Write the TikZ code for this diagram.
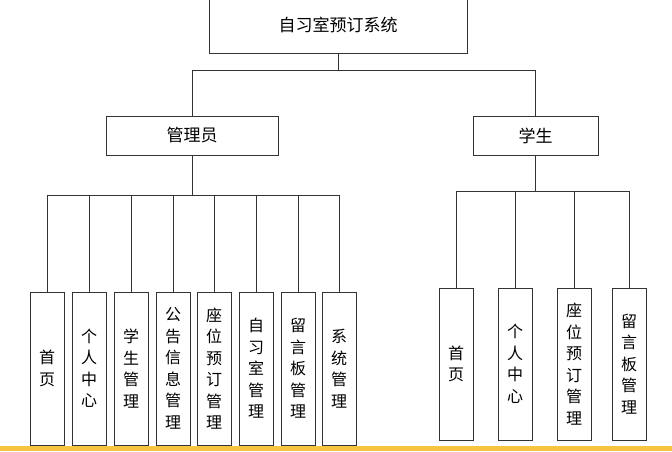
\documentclass[tikz,border=0pt]{standalone}
\usepackage{fontspec}
\newfontfamily\cjk{Noto Sans CJK SC}
\definecolor{lineclr}{HTML}{333333}
\definecolor{barclr}{HTML}{F9C342}
\tikzset{
  box/.style={draw=lineclr, line width=1pt, rectangle, inner sep=0pt, align=center,
    font=\cjk\fontsize{17}{22}\selectfont, text=black},
  leafbox/.style={box, minimum width=34pt, font=\cjk\fontsize{16}{21.5}\selectfont},
  conn/.style={draw=lineclr, line width=1pt}
}
\begin{document}
\begin{tikzpicture}[x=1pt,y=-1pt]
\useasboundingbox (0,0) rectangle (672,451);
\clip (0,0) rectangle (672,451);
\fill[white] (0,0) rectangle (672,451);
\fill[barclr] (0,446) rectangle (672,451);
% top
\node[box, minimum width=258pt, minimum height=60pt] (top) at (338,23) {};
\node[font=\cjk\fontsize{17}{22}\selectfont] (toptext) at (338,25) {自习室预订系统};
\node[box, minimum width=172pt, minimum height=39pt] (admin) at (192,135.5) {管理员};
\node[box, minimum width=125pt, minimum height=39pt] (stu) at (535.5,135.5) {学生};
\coordinate (j1) at (338,70);
\draw[conn] (top.south) -- (j1);
\draw[conn] (admin.north) |- (j1);
\draw[conn] (stu.north) |- (j1);
% admin leaves
\coordinate (a0) at (192,195);
\draw[conn] (admin.south) -- (a0);
\foreach \n/\x/\t in {a1/47/{首\\页}, a2/89/{个\\人\\中\\心}, a3/131/{学\\生\\管\\理},
  a4/173/{公\\告\\信\\息\\管\\理}, a5/214/{座\\位\\预\\订\\管\\理}, a6/256/{自\\习\\室\\管\\理},
  a7/298/{留\\言\\板\\管\\理}, a8/339/{系\\统\\管\\理}}{
  \node[leafbox, minimum height=153pt] (\n) at (\x,368.5) {\t};
  \draw[conn] (\n.north) |- (a0);
}
% student leaves
\coordinate (s0) at (535.5,191);
\draw[conn] (stu.south) -- (s0);
\foreach \n/\x/\t in {s1/456/{首\\页}, s2/515/{个\\人\\中\\心}, s3/574/{座\\位\\预\\订\\管\\理},
  s4/629/{留\\言\\板\\管\\理}}{
  \node[leafbox, minimum height=152pt] (\n) at (\x,364) {\t};
  \draw[conn] (\n.north) |- (s0);
}
\end{tikzpicture}
\end{document}
